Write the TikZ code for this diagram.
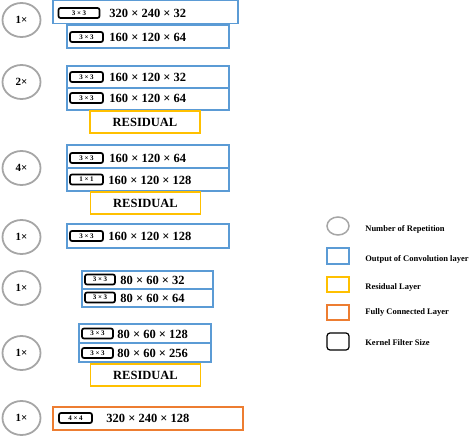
\documentclass[tikz,border=0pt]{standalone}
\usepackage{fontspec}
\setmainfont{Liberation Serif}
\definecolor{convblue}{RGB}{91,155,213}
\definecolor{resyellow}{RGB}{255,192,0}
\definecolor{fcorange}{RGB}{237,125,49}
\definecolor{repgray}{RGB}{166,166,166}
\tikzset{every picture/.style={line width=0.75pt}}
\tikzset{
  rep/.style={draw=repgray, line width=1.8pt, ellipse, minimum width=38, minimum height=34, inner sep=0, font=\fontsize{11}{13}\selectfont\bfseries},
  conv/.style={draw=convblue, line width=1.7pt, rectangle, inner sep=0, outer sep=0},
  resid/.style={draw=resyellow, line width=1.7pt, rectangle, inner sep=0, minimum width=110, minimum height=22, font=\fontsize{12.5}{14}\selectfont\bfseries},
  fc/.style={draw=fcorange, line width=1.7pt, rectangle, inner sep=0},
  kern/.style={draw=black, line width=1.7pt, rounded corners=2pt, rectangle, inner sep=0, minimum height=10, font=\fontsize{7}{8}\selectfont\bfseries},
  dims/.style={anchor=west, inner sep=0, font=\fontsize{12.5}{14}\selectfont\bfseries},
  legtext/.style={anchor=west, inner sep=0, font=\fontsize{8.5}{10}\selectfont\bfseries}
}
\usetikzlibrary{shapes.geometric}
\begin{document}
\begin{tikzpicture}[x=1pt,y=1pt,yscale=-1,xscale=1]
\useasboundingbox (0,0) rectangle (474,436);

%Shape: Ellipse (repetitions)
\node [rep] (rp1) at (21.5,20) {1×};
\node [rep] (rp2) at (21.5,82) {2×};
\node [rep] (rp3) at (21.5,168) {4×};
\node [rep] (rp4) at (21.5,237) {1×};
\node [rep] (rp5) at (21.5,288) {1×};
\node [rep] (rp6) at (21.5,353) {1×};
\node [rep] (rp7) at (21.5,418) {1×};

%Shape: Rectangle (convolution outputs)
\node [conv, minimum width=185, minimum height=23] (cv1) at (145.5,12) {};
\node [conv, minimum width=162, minimum height=23] (cv2) at (148,36.5) {};
\node [conv, minimum width=162, minimum height=22] (cv3) at (148,77) {};
\node [conv, minimum width=162, minimum height=22] (cv4) at (148,99) {};
\node [conv, minimum width=162, minimum height=23] (cv5) at (148,156.5) {};
\node [conv, minimum width=162, minimum height=23] (cv6) at (148,179.5) {};
\node [conv, minimum width=162, minimum height=24] (cv7) at (148,236) {};
\node [conv, minimum width=131, minimum height=18] (cv8) at (147.5,280) {};
\node [conv, minimum width=131, minimum height=18] (cv9) at (147.5,298) {};
\node [conv, minimum width=132, minimum height=19] (cv10) at (145,333.5) {};
\node [conv, minimum width=132, minimum height=19] (cv11) at (145,352.5) {};

%Shape: Rectangle (residual)
\node [resid] (rs1) at (145,122) {RESIDUAL};
\node [resid] (rs2) at (145.5,203) {RESIDUAL};
\node [resid] (rs3) at (145.5,375) {RESIDUAL};

%Shape: Rectangle (fully connected)
\node [fc, minimum width=190, minimum height=23] (fc1) at (148,418.5) {};

%Shape: Rounded Rect (kernels)
\node [kern, minimum width=41] (kn1) at (79,13) {3 × 3};
\node [kern, minimum width=33] (kn2) at (86.5,37) {3 × 3};
\node [kern, minimum width=33] (kn3) at (86.5,77) {3 × 3};
\node [kern, minimum width=33] (kn4) at (86.5,98) {3 × 3};
\node [kern, minimum width=33] (kn5) at (86.5,158) {3 × 3};
\node [kern, minimum width=33] (kn6) at (86.5,179.5) {1 × 1};
\node [kern, minimum width=33] (kn7) at (86.5,236) {3 × 3};
\node [kern, minimum width=30] (kn8) at (100,279.5) {3 × 3};
\node [kern, minimum width=30] (kn9) at (100,297.5) {3 × 3};
\node [kern, minimum width=31] (kn10) at (97.5,333.5) {3 × 3};
\node [kern, minimum width=31] (kn11) at (97.5,353) {3 × 3};
\node [kern, minimum width=33] (kn12) at (75.5,418) {4 × 4};

% Text Node
\node [dims] (dm1) at (109,13) {320 × 240 × 32};
\node [dims] (dm2) at (109,37) {160 × 120 × 64};
\node [dims] (dm3) at (109,77) {160 × 120 × 32};
\node [dims] (dm4) at (109,98) {160 × 120 × 64};
\node [dims] (dm5) at (109,158) {160 × 120 × 64};
\node [dims] (dm6) at (108,180) {160 × 120 × 128};
\node [dims] (dm7) at (108,236) {160 × 120 × 128};
\node [dims] (dm8) at (120,280) {80 × 60 × 32};
\node [dims] (dm9) at (120,298) {80 × 60 × 64};
\node [dims] (dm10) at (117,334) {80 × 60 × 128};
\node [dims] (dm11) at (117,353) {80 × 60 × 256};
\node [dims] (dm12) at (106,418.5) {320 × 240 × 128};

%Legend
\node [draw=repgray, line width=1.5pt, ellipse, minimum width=22, minimum height=18, inner sep=0] (lg1) at (338,226) {};
\node [conv, line width=1.5pt, minimum width=22, minimum height=16] (lg2) at (338,256) {};
\node [draw=resyellow, line width=1.5pt, minimum width=22, minimum height=15, inner sep=0] (lg3) at (338,284.5) {};
\node [fc, line width=1.5pt, minimum width=22, minimum height=15] (lg4) at (338,312.5) {};
\node [draw=black, line width=1.2pt, rounded corners=3pt, minimum width=22, minimum height=17, inner sep=0] (lg5) at (338,341.5) {};
% Text Node
\node [legtext] (lt1) at (365,229) {Number of Repetition};
\node [legtext] (lt2) at (365,259) {Output of Convolution layer};
\node [legtext] (lt3) at (365,287) {Residual Layer};
\node [legtext] (lt4) at (365,312) {Fully Connected Layer};
\node [legtext] (lt5) at (365,343) {Kernel Filter Size};

\end{tikzpicture}
\end{document}
